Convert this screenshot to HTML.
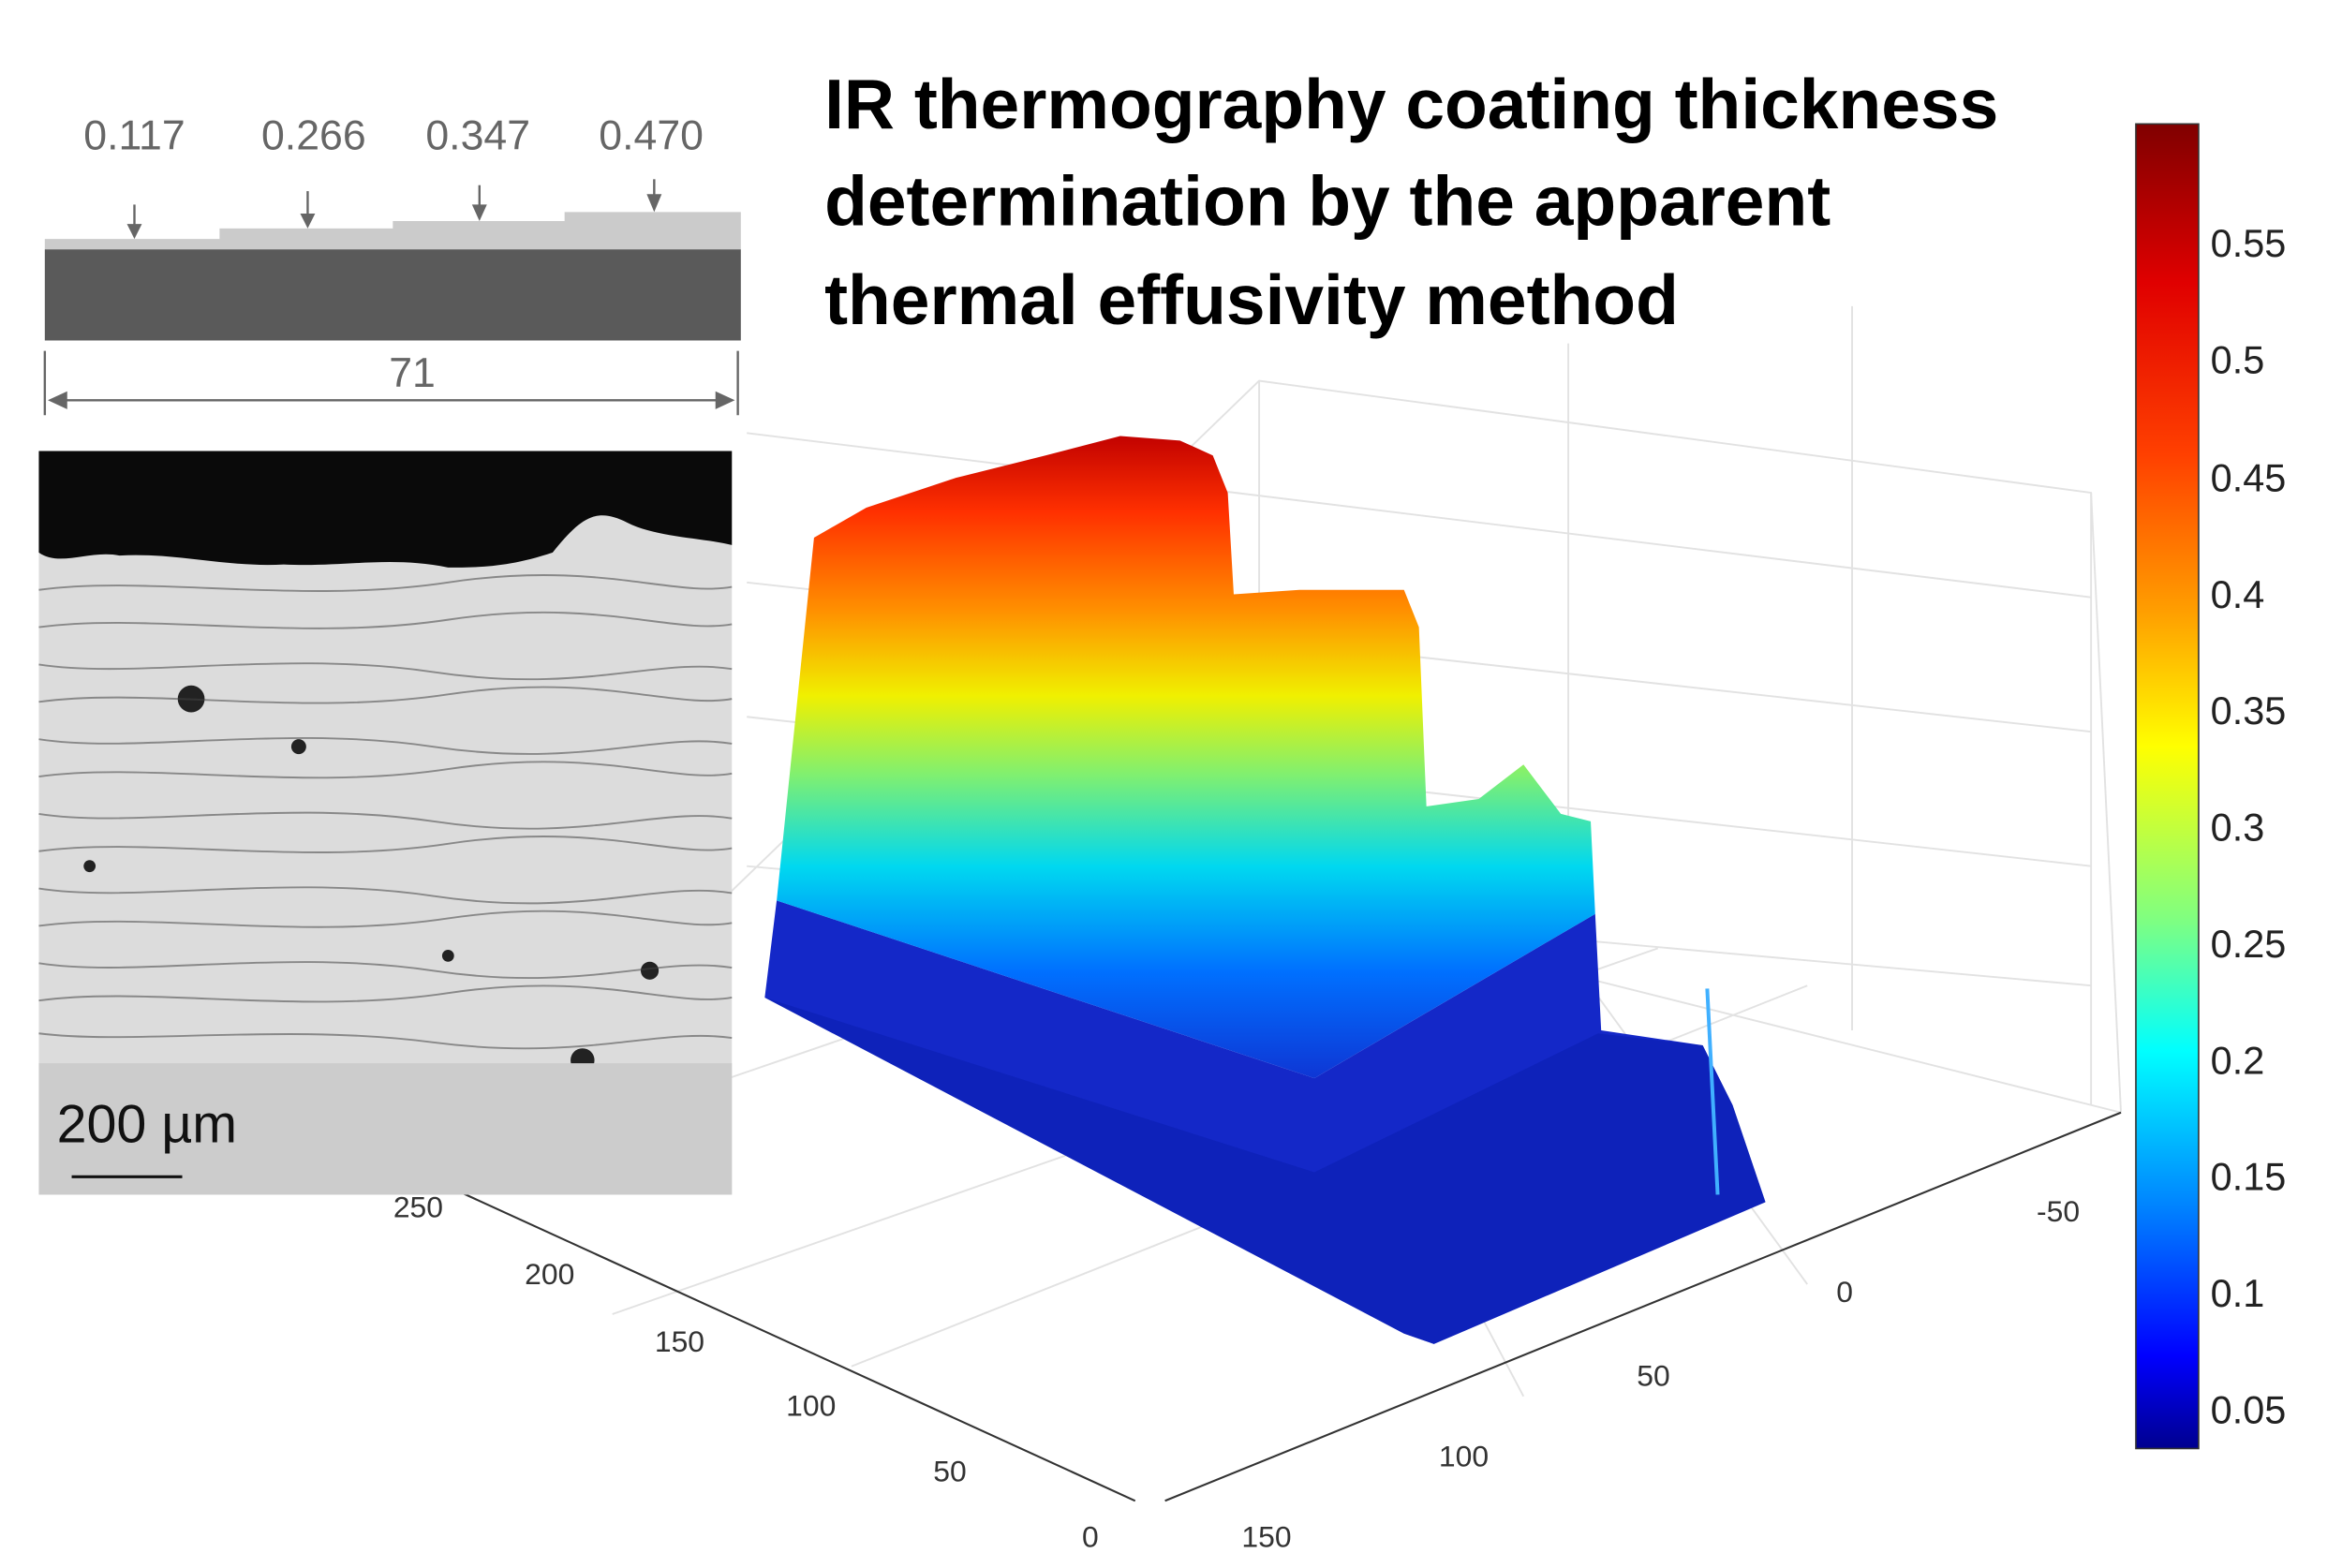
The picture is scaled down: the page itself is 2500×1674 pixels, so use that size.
<!DOCTYPE html>
<html><head><meta charset="utf-8"><style>
html,body{margin:0;padding:0;background:#fff;}
svg{display:block;}
text{font-family:"Liberation Sans",sans-serif;}
</style></head><body>
<svg width="2500" height="1674" viewBox="0 0 1568 1050" preserveAspectRatio="none" xmlns="http://www.w3.org/2000/svg">
<defs>
<linearGradient id="jet" x1="0" y1="0" x2="0" y2="1">
<stop offset="0" stop-color="#800000"/><stop offset="0.12" stop-color="#e00000"/><stop offset="0.25" stop-color="#ff4000"/><stop offset="0.37" stop-color="#ffa000"/><stop offset="0.47" stop-color="#ffff00"/><stop offset="0.6" stop-color="#80ff80"/><stop offset="0.7" stop-color="#00ffff"/><stop offset="0.82" stop-color="#0080ff"/><stop offset="0.93" stop-color="#0000ff"/><stop offset="1" stop-color="#00008f"/>
</linearGradient>
<linearGradient id="surf" gradientUnits="userSpaceOnUse" x1="0" y1="290" x2="0" y2="730">
<stop offset="0" stop-color="#c00000"/><stop offset="0.12" stop-color="#ff3000"/><stop offset="0.27" stop-color="#ff9000"/><stop offset="0.4" stop-color="#f0f000"/><stop offset="0.52" stop-color="#80f070"/><stop offset="0.66" stop-color="#00d8f0"/><stop offset="0.82" stop-color="#0070ff"/><stop offset="1" stop-color="#1030d0"/>
</linearGradient>
</defs>
<rect width="1568" height="1050" fill="#fff"/>
<g stroke="#e2e2e2" stroke-width="1.2" fill="none">
<polyline points="290,790 843,255 1400,330 1420,745"/>
<line x1="843" y1="255" x2="843" y2="600"/>
<line x1="1050" y1="230" x2="1050" y2="640"/>
<line x1="1240" y1="205" x2="1240" y2="690"/>
<line x1="1400" y1="330" x2="1400" y2="740"/>
<line x1="290" y1="790" x2="843" y2="600"/>
<line x1="843" y1="600" x2="1420" y2="745"/>
<line x1="500" y1="290" x2="1400" y2="400"/>
<line x1="500" y1="390" x2="1400" y2="490"/>
<line x1="500" y1="480" x2="1400" y2="580"/>
<line x1="500" y1="580" x2="1400" y2="660"/>
<line x1="410" y1="880" x2="1110" y2="635"/>
<line x1="570" y1="915" x2="1210" y2="660"/>
<line x1="1020" y1="935" x2="843" y2="600"/>
<line x1="1210" y1="860" x2="1050" y2="640"/>
</g>
<g stroke="#333" stroke-width="1.3">
<line x1="290" y1="790" x2="760" y2="1005"/>
<line x1="780" y1="1005" x2="1420" y2="745"/>
</g>
<g font-size="20" fill="#333" text-anchor="middle">
<text x="280" y="815">250</text><text x="368" y="860">200</text><text x="455" y="905">150</text><text x="543" y="948">100</text><text x="636" y="992">50</text><text x="730" y="1036">0</text>
<text x="848" y="1036">150</text><text x="980" y="982">100</text><text x="1107" y="928">50</text><text x="1235" y="872">0</text><text x="1378" y="818">-50</text>
</g>
<polygon points="512,668 520,603 880,722 1068,612 1072,690 1140,700 1160,740 1182,805 960,900 940,893" fill="#1428c8"/>
<polygon points="512,668 880,785 1070,692 1140,700 1160,740 1182,805 960,900 940,893" fill="#0a1eb0" opacity="0.6"/>
<polygon points="520,603 545,360 580,340 640,320 700,305 750,292 790,295 812,305 822,330 826,398 870,395 910,395 940,395 950,420 955,540 990,535 1020,512 1045,545 1065,550 1068,612 880,722" fill="url(#surf)"/>
<line x1="1143" y1="662" x2="1150" y2="800" stroke="#40b0ff" stroke-width="2.5"/>
<g font-size="47" font-weight="bold" fill="#000">
<text x="552" y="86">IR thermography coating thickness</text>
<text x="552" y="151">determination by the apparent</text>
<text x="552" y="217">thermal effusivity method</text>
</g>
<rect x="1430" y="83" width="42" height="887" fill="url(#jet)" stroke="#333" stroke-width="1"/>
<g font-size="26" fill="#222">
<text x="1480" y="172">0.55</text><text x="1480" y="250">0.5</text><text x="1480" y="329">0.45</text><text x="1480" y="407">0.4</text><text x="1480" y="485">0.35</text><text x="1480" y="563">0.3</text><text x="1480" y="641">0.25</text><text x="1480" y="719">0.2</text><text x="1480" y="797">0.15</text><text x="1480" y="875">0.1</text><text x="1480" y="953">0.05</text>
</g>
<g font-size="28" fill="#666" text-anchor="middle">
<text x="90" y="100">0.117</text><text x="210" y="100">0.266</text><text x="320" y="100">0.347</text><text x="436" y="100">0.470</text>
<text x="276" y="259">71</text>
</g>
<polygon points="30,167 30,160 147,160 147,153 263,153 263,148 378,148 378,142 496,142 496,167" fill="#cbcbcb"/>
<rect x="30" y="167" width="466" height="61" fill="#5a5a5a"/>
<g stroke="#666" stroke-width="1.5" fill="#666">
<line x1="90" y1="137" x2="90" y2="155"/><line x1="206" y1="128" x2="206" y2="148"/><line x1="321" y1="124" x2="321" y2="142"/><line x1="438" y1="120" x2="438" y2="136"/>
<line x1="30" y1="235" x2="30" y2="278"/><line x1="494" y1="235" x2="494" y2="278"/><line x1="38" y1="268" x2="488" y2="268"/>
</g>
<g fill="#666">
<polygon points="85,150 95,150 90,160"/><polygon points="201,143 211,143 206,153"/><polygon points="316,137 326,137 321,148"/><polygon points="433,130 443,130 438,142"/>
<polygon points="32,268 45,262 45,274"/><polygon points="492,268 479,262 479,274"/>
</g>
<rect x="26" y="302" width="464" height="498" fill="#dcdcdc"/>
<path d="M26,302 H490 V365 C470,360 440,360 420,350 C400,340 390,345 370,370 C340,380 320,380 300,380 C260,372 230,380 190,378 C150,380 120,370 80,372 C60,368 40,380 26,370 Z" fill="#0a0a0a"/>
<g fill="#222">
<circle cx="128" cy="468" r="9"/><circle cx="435" cy="650" r="6"/><circle cx="390" cy="710" r="8"/><circle cx="300" cy="640" r="4"/><circle cx="200" cy="500" r="5"/><circle cx="60" cy="580" r="4"/>
</g>
<g stroke="#444" stroke-width="1.2" fill="none" opacity="0.55">
<path d="M26,395 C100,385 200,405 300,390 S450,400 490,393"/>
<path d="M26,420 C100,410 200,430 300,415 S450,425 490,418"/>
<path d="M26,445 C90,455 190,435 290,450 S440,440 490,448"/>
<path d="M26,470 C100,460 200,480 300,465 S450,475 490,468"/>
<path d="M26,495 C90,505 190,485 290,500 S440,490 490,498"/>
<path d="M26,520 C100,510 200,530 300,515 S450,525 490,518"/>
<path d="M26,545 C90,555 190,535 290,550 S440,540 490,548"/>
<path d="M26,570 C100,560 200,580 300,565 S450,575 490,568"/>
<path d="M26,595 C90,605 190,585 290,600 S440,590 490,598"/>
<path d="M26,620 C100,610 200,630 300,615 S450,625 490,618"/>
<path d="M26,645 C90,655 190,635 290,650 S440,640 490,648"/>
<path d="M26,670 C100,660 200,680 300,665 S450,675 490,668"/>
<path d="M26,692 C90,700 190,685 290,698 S440,688 490,695"/>
</g>
<rect x="26" y="712" width="464" height="88" fill="#cccccc"/>
<text x="38" y="765" font-size="36" fill="#111">200 µm</text>
<line x1="48" y1="788" x2="122" y2="788" stroke="#111" stroke-width="2"/>
</svg>
</body></html>
